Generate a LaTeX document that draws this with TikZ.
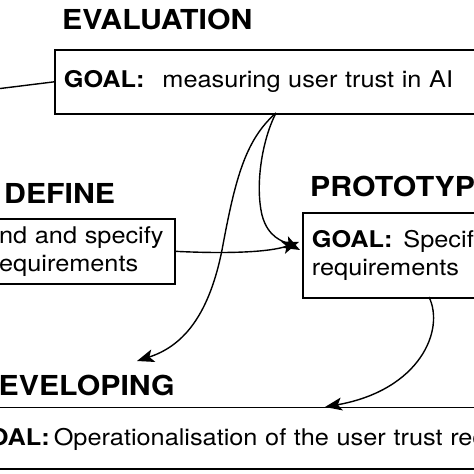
\documentclass[tikz,border=0pt]{standalone}
\usepackage{fontspec}
\setmainfont{TeX Gyre Heros}[FakeStretch=1.1]
\usetikzlibrary{arrows.meta}

\begin{document}
\begin{tikzpicture}[x=1pt,y=-1pt,
  phase/.style={anchor=base west,inner sep=0pt,font=\fontsize{27.5}{32}\selectfont\bfseries},
  goalbox/.style={draw,line width=1.7pt,align=left,inner ysep=0pt,
    font=\fontsize{23}{27.5}\selectfont},
  flow/.style={line width=1.4pt,-{Stealth[length=17pt,width=13pt,inset=4pt]}}]
\useasboundingbox (0,0) rectangle (474,474);
\clip (0,0) rectangle (474,474);
% phases
\node[phase] (evaltitle) at (62,29.3) {EVALUATION};
\node[phase] (deftitle) at (4,203.3) {DEFINE};
\node[phase] (prototitle) at (310,196.7) {PROTOTYP};
\node[phase] (devtitle) at (-1.5,395) {EVELOPING};
% goal boxes
\node[goalbox,anchor=north west,minimum height=64pt,text width=440pt,inner xsep=9pt]
  (evalbox) at (54,49) {\textbf{GOAL:}\hspace{18pt}measuring user trust in AI};
\node[goalbox,anchor=north east,minimum height=65pt,text width=166pt,inner xsep=10pt]
  (defbox) at (176,218) {nd and specify\\equirements};
\node[goalbox,anchor=north west,minimum height=85pt,text width=200pt,inner xsep=9pt]
  (protobox) at (302,212) {\textbf{GOAL:}\hspace{11pt}Specify\\requirements};
\node[goalbox,anchor=north west,minimum height=61.3pt,text width=600pt,inner xsep=18pt,
  text depth=2pt]
  (devbox) at (-30,406.7) {\textbf{OAL:}\hspace{4pt}Operationalisation of the user trust requ};
% end points
\coordinate (lft) at (-20,91);
\coordinate (evalout) at (276,113);
\coordinate (devtip) at (137,361);
\coordinate (prototipa) at (300,250);
\coordinate (prototipb) at (299,242);
\coordinate (protoout) at (429,297);
\coordinate (devin) at (325,407);
% connectors
\draw[line width=1.4pt] (lft) -- (evalbox.west);
\draw[flow] (evalout) .. controls (245,140) and (235,180) .. (222,250)
  .. controls (208,320) and (180,347) .. (devtip);
\draw[flow] (evalout) .. controls (262,140) and (255,185) .. (262,215)
  .. controls (268,238) and (283,241) .. (prototipa);
\draw[flow] (defbox.east) .. controls (230,254) and (270,252) .. (prototipb);
\draw[flow] (protoout) .. controls (445,330) and (420,390) .. (devin);
\end{tikzpicture}
\end{document}
